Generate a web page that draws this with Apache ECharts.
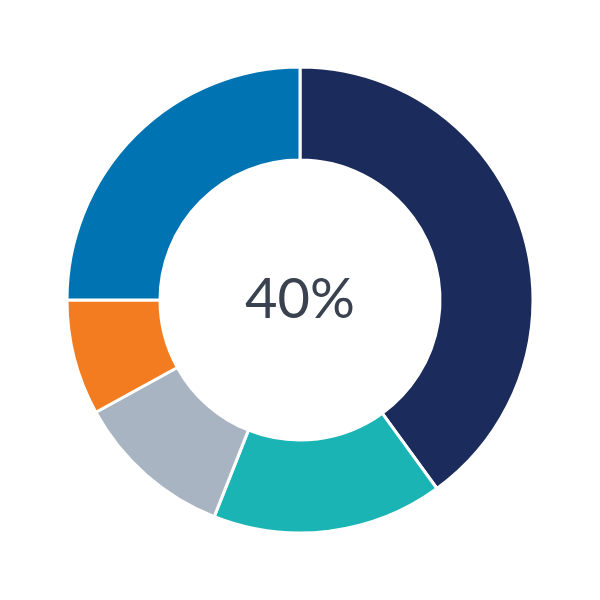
<!DOCTYPE html>
<html>
<head>
<meta charset="utf-8">
<script src="https://cdn.jsdelivr.net/npm/echarts@6/dist/echarts.min.js"></script>
<style>
  html, body { margin: 0; padding: 0; background: #fff; }
  #main { width: 600px; height: 600px; }
</style>
</head>
<body>
<div id="main"></div>
<script>
// slice values (percent), clockwise from 12 o'clock
var names = ['A', 'B', 'C', 'D', 'E'];
var values = [40, 16, 11, 8, 25];
var colors = ['#1b2b5b', '#1bb4b5', '#a9b4c2', '#f37c20', '#0074b3'];
var centerLabel = '40%';

var chart = echarts.init(document.getElementById('main'));
var data = values.map(function (v, i) {
  return { name: names[i], value: v, itemStyle: { color: colors[i] } };
});

chart.setOption({
  animation: false,
  title: {
    text: centerLabel,
    left: 'center',
    top: 'middle',
    textStyle: {
      fontFamily: 'Lato',
      fontWeight: 'normal',
      fontSize: 56,
      color: '#39424e'
    }
  },
  series: [{
    type: 'pie',
    radius: [140, 233],
    center: ['50%', '50%'],
    startAngle: 90,
    clockwise: true,
    label: { show: false },
    labelLine: { show: false },
    itemStyle: { borderColor: '#fff', borderWidth: 3 },
    emphasis: { disabled: true },
    data: data
  }]
});
</script>
</body>
</html>
